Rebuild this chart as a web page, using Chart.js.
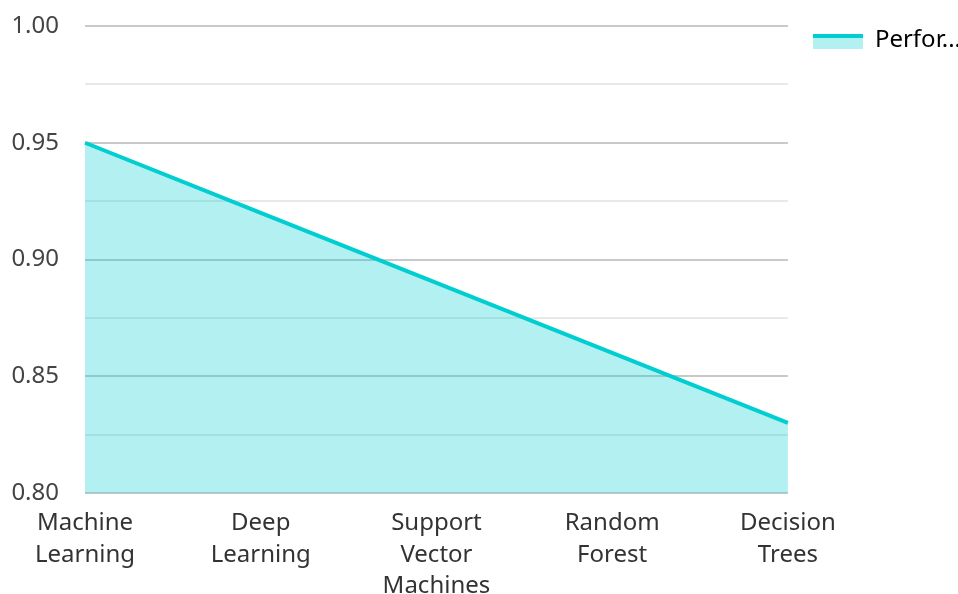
<!DOCTYPE html>
<html>
<head>
<meta charset="utf-8">
<script src="https://cdn.jsdelivr.net/npm/chart.js@4/dist/chart.umd.min.js"></script>
<style>
  html, body { margin: 0; padding: 0; background: #fff; }
  #wrap { width: 958px; height: 594px; }
</style>
</head>
<body>
<div id="wrap"><canvas id="chart"></canvas></div>
<script>
const categories = [
    ['Machine', 'Learning'],
    ['Deep', 'Learning'],
    ['Support', 'Vector', 'Machines'],
    ['Random', 'Forest'],
    ['Decision', 'Trees']
];
const performance = [0.95, 0.92, 0.89, 0.86, 0.83];
const seriesName = 'Performance';
const yMin = 0.80, yMax = 1.00, yStep = 0.025;

const lineColor = '#00CED1';
const fillColor = 'rgba(0, 206, 209, 0.3)';

// legend swatch: thick line on top, light fill under it
const swatch = document.createElement('canvas');
swatch.width = 50;
swatch.height = 20;
let sctx = swatch.getContext('2d');
sctx.fillStyle = fillColor;
sctx.fillRect(0, 4, 50, 15);
sctx.fillStyle = lineColor;
sctx.fillRect(0, 4, 50, 4);

Chart.defaults.font.family = '"Noto Sans", "Open Sans", sans-serif';
Chart.defaults.font.size = 24;
Chart.defaults.color = '#444';

let chart = new Chart(document.getElementById('chart'), {
    type: 'line',
    data: {
        labels: categories,
        datasets: [{
            label: seriesName,
            data: performance,
            borderColor: lineColor,
            backgroundColor: fillColor,
            borderWidth: 4,
            fill: 'start',
            tension: 0,
            pointRadius: 0,
            pointHoverRadius: 0
        }]
    },
    options: {
        responsive: true,
        maintainAspectRatio: false,
        animation: false,
        layout: {
            padding: { left: 0, top: 3, right: -13, bottom: 0 }
        },
        plugins: {
            tooltip: { enabled: false },
            legend: {
                position: 'right',
                align: 'start',
                labels: {
                    usePointStyle: true,
                    pointStyleWidth: 50,
                    color: '#333',
                    padding: 25,
                    generateLabels: (c) => c.data.datasets.map((ds, i) => ({
                        text: ds.label.length > 6 ? ds.label.slice(0, 6) + '...' : ds.label,
                        pointStyle: swatch,
                        fillStyle: fillColor,
                        strokeStyle: lineColor,
                        lineWidth: 0,
                        hidden: false,
                        datasetIndex: i
                    }))
                }
            }
        },
        scales: {
            x: {
                grid: { display: false, drawTicks: false },
                border: { display: false },
                ticks: {
                    padding: 15,
                    maxRotation: 0,
                    autoSkip: false,
                    color: '#333',
                    font: { lineHeight: 1.3 }
                },
                afterFit: (scale) => { scale.height = 101; }
            },
            y: {
                min: yMin,
                max: yMax,
                grid: {
                    drawTicks: false,
                    lineWidth: 2,
                    color: (ctx) => ctx.index % 2 === 0 ? '#c9c9c9' : '#e8e8e8'
                },
                border: { display: false },
                ticks: {
                    stepSize: yStep,
                    padding: 26,
                    color: '#444',
                    callback: (v, i) => i % 2 === 0 ? v.toFixed(2) : ''
                },
                afterFit: (scale) => {
                    scale.width = 85;
                    scale.paddingTop = 26;
                    scale.paddingBottom = 0;
                }
            }
        }
    }
});
</script>
</body>
</html>
